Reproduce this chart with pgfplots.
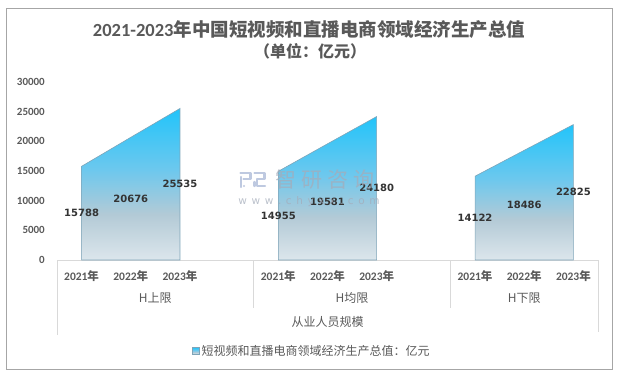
\documentclass[border=0pt]{standalone}
\usepackage{pgfplots}
\pgfplotsset{compat=1.18}
\usepackage{pgfplotstable}
\usepackage{fontspec}
\setmainfont{Carlito}
\newfontfamily\cjk{Noto Sans CJK SC}
\newfontfamily\dvs{DejaVu Sans}

\definecolor{txtgray}{HTML}{595959}
\definecolor{lblgray}{HTML}{333333}
\definecolor{framegray}{HTML}{D9D9D9}
\definecolor{bordergray}{HTML}{A6A6A6}
\definecolor{edgeblue}{HTML}{7EA4B8}
\definecolor{fillbot}{HTML}{DCE6EC}
\definecolor{fillmid}{HTML}{B3CAD6}
\definecolor{fillup}{HTML}{6CC8EE}
\definecolor{filltop}{HTML}{22C4FA}
\definecolor{wmark}{HTML}{A4ACBA}
\definecolor{wlogo}{HTML}{A3B2D3}

% vertical gradient of the areas (path bounding box maps to 25bp..75bp)
\pgfdeclareverticalshading{areafill}{100bp}{%
  color(0bp)=(fillbot); color(25bp)=(fillbot); color(40bp)=(fillmid);
  color(55bp)=(fillup); color(75bp)=(filltop); color(100bp)=(filltop)}

% output value of the economy, 100 million yuan
\pgfplotstableread{
x v
0 15788
1 20676
2 25535
}\groupupper
\pgfplotstableread{
x v
4 14955
5 19581
6 24180
}\groupmid
\pgfplotstableread{
x v
8 14122
9 18486
10 22825
}\grouplower

\pgfplotsset{
  valuelabels/.style={forget plot, draw=none, mark=none, point meta=explicit symbolic,
    nodes near coords, every node near coord/.style={anchor=center, text=lblgray,
      font=\fontsize{10bp}{12bp}\selectfont\dvs\bfseries}},
  areastyle/.style={draw=edgeblue, line width=0.6pt, shade, shading=areafill},
}

\begin{document}
\begin{tikzpicture}
% canvas and outer frame
\path[use as bounding box] (0,0) rectangle (619bp,378bp);
\draw[bordergray, line width=0.8pt] (6.5bp,8.5bp) rectangle (612.5bp,369.5bp);

% title
\node[text=txtgray, font=\fontsize{18.5bp}{22bp}\selectfont] at (309bp,348bp)
  {{\bfseries 2021-2023}{\cjk\bfseries 年中国短视频和直播电商领域经济生产总值}};
\node[text=txtgray, font=\fontsize{16bp}{20bp}\selectfont\cjk\bfseries] at (310bp,327bp)
  {（单位：亿元）};

\begin{axis}[
  at={(57bp,118bp)}, anchor=south west,
  width=541bp, height=178bp, scale only axis,
  xmin=-0.5, xmax=10.5, ymin=0, ymax=30000,
  enlargelimits=false, clip=false,
  axis line style={draw=none}, tick style={draw=none},
  scaled y ticks=false,
  ytick={0,5000,10000,15000,20000,25000,30000},
  yticklabels={0,5000,10000,15000,20000,25000,30000},
  yticklabel style={font=\fontsize{11bp}{13bp}\selectfont\bfseries, text=txtgray,
    anchor=east, inner sep=0pt, xshift=-12bp},
  xtick={0,1,2,4,5,6,8,9,10},
  xticklabels={2021{\cjk 年},2022{\cjk 年},2023{\cjk 年},
               2021{\cjk 年},2022{\cjk 年},2023{\cjk 年},
               2021{\cjk 年},2022{\cjk 年},2023{\cjk 年}},
  xticklabel style={font=\fontsize{11.5bp}{13bp}\selectfont\bfseries, text=txtgray,
    anchor=center, inner sep=0pt, yshift=-16bp},
  legend style={at={(0.471,-0.511)}, anchor=center, draw=none, fill=none,
    font=\fontsize{12bp}{14bp}\selectfont\cjk, text=txtgray,
    inner sep=0pt},
  legend cell align=left,
  legend image code/.code={\draw[#1, line width=0.4pt] (0bp,-3.5bp) rectangle (7bp,3.5bp);},
]
% category frame below the plot
\draw[framegray, line width=0.8pt] (axis cs:-0.5,0) -- (axis cs:10.5,0);
\draw[framegray, line width=0.8pt] (axis cs:-0.5,0) -- ++(0pt,-75bp);
\draw[framegray, line width=0.8pt] (axis cs:10.5,0) -- ++(0pt,-72bp);
\draw[framegray, line width=0.8pt] (axis cs:3.5,0) -- ++(0pt,-48bp);
\draw[framegray, line width=0.8pt] (axis cs:7.5,0) -- ++(0pt,-48bp);

% areas
\addplot[areastyle] table[x=x, y=v] {\groupupper} \closedcycle;
\addlegendentry{短视频和直播电商领域经济生产总值：亿元}
\addplot[areastyle, forget plot] table[x=x, y=v] {\groupmid} \closedcycle;
\addplot[areastyle, forget plot] table[x=x, y=v] {\grouplower} \closedcycle;

% value labels, set at half height of each area
\addplot[valuelabels] table[x=x, y expr=\thisrow{v}/2, meta=v] {\groupupper};
\addplot[valuelabels] table[x=x, y expr=\thisrow{v}/2, meta=v] {\groupmid};
\addplot[valuelabels] table[x=x, y expr=\thisrow{v}/2, meta=v] {\grouplower};

% group labels
\node[text=txtgray, font=\fontsize{12bp}{14bp}\selectfont\cjk] at ([yshift=-38bp]axis cs:1.5,0) {H上限};
\node[text=txtgray, font=\fontsize{12bp}{14bp}\selectfont\cjk] at ([yshift=-38bp]axis cs:5.5,0) {H均限};
\node[text=txtgray, font=\fontsize{12bp}{14bp}\selectfont\cjk] at ([yshift=-38bp]axis cs:9,0) {H下限};
\node[text=txtgray, font=\fontsize{12bp}{14bp}\selectfont\cjk] at ([yshift=-62bp]axis cs:5,0) {从业人员规模};
\end{axis}

% watermark
\begin{scope}[opacity=0.7, line width=2.4bp, line cap=round, line join=round]
  \draw[wlogo] (240.5bp,205bp) -- (250.5bp,205bp) -- (250.5bp,199bp) -- (243.5bp,199bp)
        (241bp,201bp) -- (241bp,191bp) (244bp,192bp) -- (244bp,192bp);
  \draw[wlogo] (254.5bp,205bp) -- (264.5bp,205bp) -- (264.5bp,199bp) -- (257bp,199bp) -- (257bp,192bp) -- (265bp,192bp)
        (254.5bp,196bp) -- (254.5bp,192bp);
\end{scope}
\node[text=wmark, opacity=0.75, font=\fontsize{21bp}{24bp}\selectfont\cjk] at (325bp,198bp)
  {智\hspace{5bp}研\hspace{5bp}咨\hspace{5bp}询};
\node[text=wmark, opacity=0.75, font=\fontsize{10.5bp}{12bp}\selectfont\dvs] at (309bp,176bp)
  {w\hspace{4.6bp}w\hspace{4.6bp}w\hspace{4.6bp}.\hspace{4.6bp}c\hspace{4.6bp}h\hspace{4.6bp}y\hspace{4.6bp}x\hspace{4.6bp}x\hspace{4.6bp}.\hspace{4.6bp}c\hspace{4.6bp}o\hspace{4.6bp}m};
\end{tikzpicture}
\end{document}
